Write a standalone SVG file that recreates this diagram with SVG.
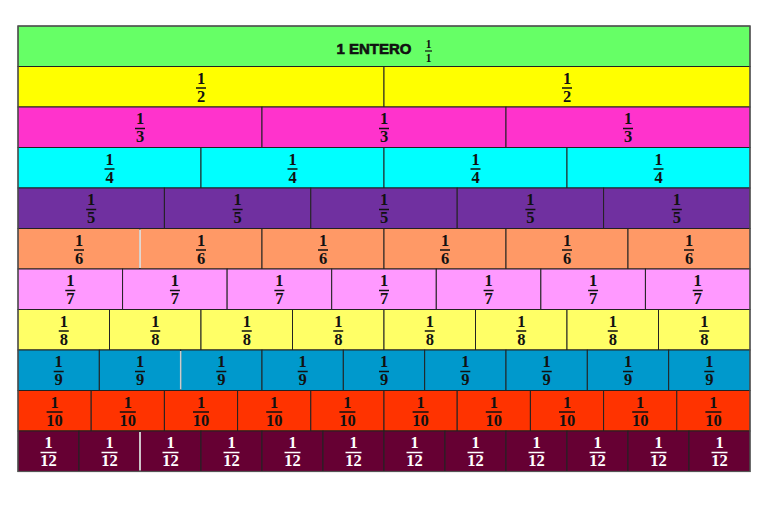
<svg xmlns="http://www.w3.org/2000/svg" width="768" height="523" viewBox="0 0 768 523">
<style>
rect{stroke:#222;stroke-width:1}
.r1{fill:#66FF66}.r2{fill:#FFFF00}.r3{fill:#FF33CC}.r4{fill:#00FFFF}.r5{fill:#7030A0}.r6{fill:#FF9966}.r7{fill:#FF99FF}.r8{fill:#FFFF66}.r9{fill:#0099CC}.r10{fill:#FF3300}.r12{fill:#660033}
text{font-family:"Liberation Serif","DejaVu Serif",serif;font-weight:bold;font-size:16.5px;text-anchor:middle;fill:#111}
line{stroke:#111;stroke-width:1.5}
.w text{fill:#fff}.w line{stroke:#fff}
.t{font-family:"Liberation Sans",Arial,sans-serif;font-size:15px;stroke:#111;stroke-width:0.6}
.s{font-size:11.5px}
.wd{stroke:#fff;stroke-width:1.5}
</style>
<rect x="0" y="0" width="768" height="523" style="fill:#fff;stroke:none"/>
<g id="row1">
<g id="c1-1"><rect class="r1" x="18" y="26" width="732" height="40.5"/><text class="t" x="374" y="54">1 ENTERO</text><text class="s" x="428.5" y="48">1</text><line x1="425" y1="51" x2="432" y2="51" style="stroke-width:1.2"/><text class="s" x="428.5" y="61.5">1</text></g>
</g>
<g id="row2">
<g id="c2-1"><rect class="r2" x="18" y="66.5" width="366" height="40.5"/><text x="201" y="83.5">1</text><line x1="196" y1="88" x2="206" y2="88"/><text x="201" y="101.5">2</text></g>
<g id="c2-2"><rect class="r2" x="384" y="66.5" width="366" height="40.5"/><text x="567" y="83.5">1</text><line x1="562" y1="88" x2="572" y2="88"/><text x="567" y="101.5">2</text></g>
</g>
<g id="row3">
<g id="c3-1"><rect class="r3" x="18" y="107" width="244" height="40.5"/><text x="140" y="124">1</text><line x1="135" y1="128.5" x2="145" y2="128.5"/><text x="140" y="142">3</text></g>
<g id="c3-2"><rect class="r3" x="262" y="107" width="244" height="40.5"/><text x="384" y="124">1</text><line x1="379" y1="128.5" x2="389" y2="128.5"/><text x="384" y="142">3</text></g>
<g id="c3-3"><rect class="r3" x="506" y="107" width="244" height="40.5"/><text x="628" y="124">1</text><line x1="623" y1="128.5" x2="633" y2="128.5"/><text x="628" y="142">3</text></g>
</g>
<g id="row4">
<g id="c4-1"><rect class="r4" x="18" y="147.5" width="183" height="40.5"/><text x="109.5" y="164.5">1</text><line x1="104.5" y1="169" x2="114.5" y2="169"/><text x="109.5" y="182.5">4</text></g>
<g id="c4-2"><rect class="r4" x="201" y="147.5" width="183" height="40.5"/><text x="292.5" y="164.5">1</text><line x1="287.5" y1="169" x2="297.5" y2="169"/><text x="292.5" y="182.5">4</text></g>
<g id="c4-3"><rect class="r4" x="384" y="147.5" width="183" height="40.5"/><text x="475.5" y="164.5">1</text><line x1="470.5" y1="169" x2="480.5" y2="169"/><text x="475.5" y="182.5">4</text></g>
<g id="c4-4"><rect class="r4" x="567" y="147.5" width="183" height="40.5"/><text x="658.5" y="164.5">1</text><line x1="653.5" y1="169" x2="663.5" y2="169"/><text x="658.5" y="182.5">4</text></g>
</g>
<g id="row5">
<g id="c5-1"><rect class="r5" x="18" y="188" width="146.4" height="40.5"/><text x="91.2" y="205">1</text><line x1="86.2" y1="209.5" x2="96.2" y2="209.5"/><text x="91.2" y="223">5</text></g>
<g id="c5-2"><rect class="r5" x="164.4" y="188" width="146.4" height="40.5"/><text x="237.6" y="205">1</text><line x1="232.6" y1="209.5" x2="242.6" y2="209.5"/><text x="237.6" y="223">5</text></g>
<g id="c5-3"><rect class="r5" x="310.8" y="188" width="146.4" height="40.5"/><text x="384" y="205">1</text><line x1="379" y1="209.5" x2="389" y2="209.5"/><text x="384" y="223">5</text></g>
<g id="c5-4"><rect class="r5" x="457.2" y="188" width="146.4" height="40.5"/><text x="530.4" y="205">1</text><line x1="525.4" y1="209.5" x2="535.4" y2="209.5"/><text x="530.4" y="223">5</text></g>
<g id="c5-5"><rect class="r5" x="603.6" y="188" width="146.4" height="40.5"/><text x="676.8" y="205">1</text><line x1="671.8" y1="209.5" x2="681.8" y2="209.5"/><text x="676.8" y="223">5</text></g>
</g>
<g id="row6">
<g id="c6-1"><rect class="r6" x="18" y="228.5" width="122" height="40.5"/><text x="79" y="245.5">1</text><line x1="74" y1="250" x2="84" y2="250"/><text x="79" y="263.5">6</text></g>
<g id="c6-2"><rect class="r6" x="140" y="228.5" width="122" height="40.5"/><text x="201" y="245.5">1</text><line x1="196" y1="250" x2="206" y2="250"/><text x="201" y="263.5">6</text></g>
<g id="c6-3"><rect class="r6" x="262" y="228.5" width="122" height="40.5"/><text x="323" y="245.5">1</text><line x1="318" y1="250" x2="328" y2="250"/><text x="323" y="263.5">6</text></g>
<g id="c6-4"><rect class="r6" x="384" y="228.5" width="122" height="40.5"/><text x="445" y="245.5">1</text><line x1="440" y1="250" x2="450" y2="250"/><text x="445" y="263.5">6</text></g>
<g id="c6-5"><rect class="r6" x="506" y="228.5" width="122" height="40.5"/><text x="567" y="245.5">1</text><line x1="562" y1="250" x2="572" y2="250"/><text x="567" y="263.5">6</text></g>
<g id="c6-6"><rect class="r6" x="628" y="228.5" width="122" height="40.5"/><text x="689" y="245.5">1</text><line x1="684" y1="250" x2="694" y2="250"/><text x="689" y="263.5">6</text></g>
</g>
<g id="row7">
<g id="c7-1"><rect class="r7" x="18" y="269" width="104.57" height="40.5"/><text x="70.3" y="286">1</text><line x1="65.3" y1="290.5" x2="75.3" y2="290.5"/><text x="70.3" y="304">7</text></g>
<g id="c7-2"><rect class="r7" x="122.57" y="269" width="104.57" height="40.5"/><text x="174.9" y="286">1</text><line x1="169.9" y1="290.5" x2="179.9" y2="290.5"/><text x="174.9" y="304">7</text></g>
<g id="c7-3"><rect class="r7" x="227.14" y="269" width="104.57" height="40.5"/><text x="279.4" y="286">1</text><line x1="274.4" y1="290.5" x2="284.4" y2="290.5"/><text x="279.4" y="304">7</text></g>
<g id="c7-4"><rect class="r7" x="331.71" y="269" width="104.57" height="40.5"/><text x="384" y="286">1</text><line x1="379" y1="290.5" x2="389" y2="290.5"/><text x="384" y="304">7</text></g>
<g id="c7-5"><rect class="r7" x="436.29" y="269" width="104.57" height="40.5"/><text x="488.6" y="286">1</text><line x1="483.6" y1="290.5" x2="493.6" y2="290.5"/><text x="488.6" y="304">7</text></g>
<g id="c7-6"><rect class="r7" x="540.86" y="269" width="104.57" height="40.5"/><text x="593.1" y="286">1</text><line x1="588.1" y1="290.5" x2="598.1" y2="290.5"/><text x="593.1" y="304">7</text></g>
<g id="c7-7"><rect class="r7" x="645.43" y="269" width="104.57" height="40.5"/><text x="697.7" y="286">1</text><line x1="692.7" y1="290.5" x2="702.7" y2="290.5"/><text x="697.7" y="304">7</text></g>
</g>
<g id="row8">
<g id="c8-1"><rect class="r8" x="18" y="309.5" width="91.5" height="40.5"/><text x="63.75" y="326.5">1</text><line x1="58.75" y1="331" x2="68.75" y2="331"/><text x="63.75" y="344.5">8</text></g>
<g id="c8-2"><rect class="r8" x="109.5" y="309.5" width="91.5" height="40.5"/><text x="155.25" y="326.5">1</text><line x1="150.25" y1="331" x2="160.25" y2="331"/><text x="155.25" y="344.5">8</text></g>
<g id="c8-3"><rect class="r8" x="201" y="309.5" width="91.5" height="40.5"/><text x="246.75" y="326.5">1</text><line x1="241.75" y1="331" x2="251.75" y2="331"/><text x="246.75" y="344.5">8</text></g>
<g id="c8-4"><rect class="r8" x="292.5" y="309.5" width="91.5" height="40.5"/><text x="338.25" y="326.5">1</text><line x1="333.25" y1="331" x2="343.25" y2="331"/><text x="338.25" y="344.5">8</text></g>
<g id="c8-5"><rect class="r8" x="384" y="309.5" width="91.5" height="40.5"/><text x="429.75" y="326.5">1</text><line x1="424.75" y1="331" x2="434.75" y2="331"/><text x="429.75" y="344.5">8</text></g>
<g id="c8-6"><rect class="r8" x="475.5" y="309.5" width="91.5" height="40.5"/><text x="521.25" y="326.5">1</text><line x1="516.25" y1="331" x2="526.25" y2="331"/><text x="521.25" y="344.5">8</text></g>
<g id="c8-7"><rect class="r8" x="567" y="309.5" width="91.5" height="40.5"/><text x="612.75" y="326.5">1</text><line x1="607.75" y1="331" x2="617.75" y2="331"/><text x="612.75" y="344.5">8</text></g>
<g id="c8-8"><rect class="r8" x="658.5" y="309.5" width="91.5" height="40.5"/><text x="704.25" y="326.5">1</text><line x1="699.25" y1="331" x2="709.25" y2="331"/><text x="704.25" y="344.5">8</text></g>
</g>
<g id="row9">
<g id="c9-1"><rect class="r9" x="18" y="350" width="81.33" height="40.5"/><text x="58.7" y="367">1</text><line x1="53.7" y1="371.5" x2="63.7" y2="371.5"/><text x="58.7" y="385">9</text></g>
<g id="c9-2"><rect class="r9" x="99.33" y="350" width="81.33" height="40.5"/><text x="140" y="367">1</text><line x1="135" y1="371.5" x2="145" y2="371.5"/><text x="140" y="385">9</text></g>
<g id="c9-3"><rect class="r9" x="180.67" y="350" width="81.33" height="40.5"/><text x="221.3" y="367">1</text><line x1="216.3" y1="371.5" x2="226.3" y2="371.5"/><text x="221.3" y="385">9</text></g>
<g id="c9-4"><rect class="r9" x="262" y="350" width="81.33" height="40.5"/><text x="302.7" y="367">1</text><line x1="297.7" y1="371.5" x2="307.7" y2="371.5"/><text x="302.7" y="385">9</text></g>
<g id="c9-5"><rect class="r9" x="343.33" y="350" width="81.33" height="40.5"/><text x="384" y="367">1</text><line x1="379" y1="371.5" x2="389" y2="371.5"/><text x="384" y="385">9</text></g>
<g id="c9-6"><rect class="r9" x="424.67" y="350" width="81.33" height="40.5"/><text x="465.3" y="367">1</text><line x1="460.3" y1="371.5" x2="470.3" y2="371.5"/><text x="465.3" y="385">9</text></g>
<g id="c9-7"><rect class="r9" x="506" y="350" width="81.33" height="40.5"/><text x="546.7" y="367">1</text><line x1="541.7" y1="371.5" x2="551.7" y2="371.5"/><text x="546.7" y="385">9</text></g>
<g id="c9-8"><rect class="r9" x="587.33" y="350" width="81.33" height="40.5"/><text x="628" y="367">1</text><line x1="623" y1="371.5" x2="633" y2="371.5"/><text x="628" y="385">9</text></g>
<g id="c9-9"><rect class="r9" x="668.67" y="350" width="81.33" height="40.5"/><text x="709.3" y="367">1</text><line x1="704.3" y1="371.5" x2="714.3" y2="371.5"/><text x="709.3" y="385">9</text></g>
</g>
<g id="row10">
<g id="c10-1"><rect class="r10" x="18" y="390.5" width="73.2" height="40.5"/><text x="54.6" y="407.5">1</text><line x1="46.6" y1="412" x2="62.6" y2="412"/><text x="54.6" y="425.5">10</text></g>
<g id="c10-2"><rect class="r10" x="91.2" y="390.5" width="73.2" height="40.5"/><text x="127.8" y="407.5">1</text><line x1="119.8" y1="412" x2="135.8" y2="412"/><text x="127.8" y="425.5">10</text></g>
<g id="c10-3"><rect class="r10" x="164.4" y="390.5" width="73.2" height="40.5"/><text x="201" y="407.5">1</text><line x1="193" y1="412" x2="209" y2="412"/><text x="201" y="425.5">10</text></g>
<g id="c10-4"><rect class="r10" x="237.6" y="390.5" width="73.2" height="40.5"/><text x="274.2" y="407.5">1</text><line x1="266.2" y1="412" x2="282.2" y2="412"/><text x="274.2" y="425.5">10</text></g>
<g id="c10-5"><rect class="r10" x="310.8" y="390.5" width="73.2" height="40.5"/><text x="347.4" y="407.5">1</text><line x1="339.4" y1="412" x2="355.4" y2="412"/><text x="347.4" y="425.5">10</text></g>
<g id="c10-6"><rect class="r10" x="384" y="390.5" width="73.2" height="40.5"/><text x="420.6" y="407.5">1</text><line x1="412.6" y1="412" x2="428.6" y2="412"/><text x="420.6" y="425.5">10</text></g>
<g id="c10-7"><rect class="r10" x="457.2" y="390.5" width="73.2" height="40.5"/><text x="493.8" y="407.5">1</text><line x1="485.8" y1="412" x2="501.8" y2="412"/><text x="493.8" y="425.5">10</text></g>
<g id="c10-8"><rect class="r10" x="530.4" y="390.5" width="73.2" height="40.5"/><text x="567" y="407.5">1</text><line x1="559" y1="412" x2="575" y2="412"/><text x="567" y="425.5">10</text></g>
<g id="c10-9"><rect class="r10" x="603.6" y="390.5" width="73.2" height="40.5"/><text x="640.2" y="407.5">1</text><line x1="632.2" y1="412" x2="648.2" y2="412"/><text x="640.2" y="425.5">10</text></g>
<g id="c10-10"><rect class="r10" x="676.8" y="390.5" width="73.2" height="40.5"/><text x="713.4" y="407.5">1</text><line x1="705.4" y1="412" x2="721.4" y2="412"/><text x="713.4" y="425.5">10</text></g>
</g>
<g id="row12" class="w">
<g id="c12-1"><rect class="r12" x="18" y="431" width="61" height="40.5"/><text x="48.5" y="448">1</text><line x1="40.5" y1="452.5" x2="56.5" y2="452.5"/><text x="48.5" y="466">12</text></g>
<g id="c12-2"><rect class="r12" x="79" y="431" width="61" height="40.5"/><text x="109.5" y="448">1</text><line x1="101.5" y1="452.5" x2="117.5" y2="452.5"/><text x="109.5" y="466">12</text></g>
<g id="c12-3"><rect class="r12" x="140" y="431" width="61" height="40.5"/><text x="170.5" y="448">1</text><line x1="162.5" y1="452.5" x2="178.5" y2="452.5"/><text x="170.5" y="466">12</text></g>
<g id="c12-4"><rect class="r12" x="201" y="431" width="61" height="40.5"/><text x="231.5" y="448">1</text><line x1="223.5" y1="452.5" x2="239.5" y2="452.5"/><text x="231.5" y="466">12</text></g>
<g id="c12-5"><rect class="r12" x="262" y="431" width="61" height="40.5"/><text x="292.5" y="448">1</text><line x1="284.5" y1="452.5" x2="300.5" y2="452.5"/><text x="292.5" y="466">12</text></g>
<g id="c12-6"><rect class="r12" x="323" y="431" width="61" height="40.5"/><text x="353.5" y="448">1</text><line x1="345.5" y1="452.5" x2="361.5" y2="452.5"/><text x="353.5" y="466">12</text></g>
<g id="c12-7"><rect class="r12" x="384" y="431" width="61" height="40.5"/><text x="414.5" y="448">1</text><line x1="406.5" y1="452.5" x2="422.5" y2="452.5"/><text x="414.5" y="466">12</text></g>
<g id="c12-8"><rect class="r12" x="445" y="431" width="61" height="40.5"/><text x="475.5" y="448">1</text><line x1="467.5" y1="452.5" x2="483.5" y2="452.5"/><text x="475.5" y="466">12</text></g>
<g id="c12-9"><rect class="r12" x="506" y="431" width="61" height="40.5"/><text x="536.5" y="448">1</text><line x1="528.5" y1="452.5" x2="544.5" y2="452.5"/><text x="536.5" y="466">12</text></g>
<g id="c12-10"><rect class="r12" x="567" y="431" width="61" height="40.5"/><text x="597.5" y="448">1</text><line x1="589.5" y1="452.5" x2="605.5" y2="452.5"/><text x="597.5" y="466">12</text></g>
<g id="c12-11"><rect class="r12" x="628" y="431" width="61" height="40.5"/><text x="658.5" y="448">1</text><line x1="650.5" y1="452.5" x2="666.5" y2="452.5"/><text x="658.5" y="466">12</text></g>
<g id="c12-12"><rect class="r12" x="689" y="431" width="61" height="40.5"/><text x="719.5" y="448">1</text><line x1="711.5" y1="452.5" x2="727.5" y2="452.5"/><text x="719.5" y="466">12</text></g>
</g>
<g id="connectors">
<line class="wd" x1="140" y1="229.5" x2="140" y2="268"/>
<line class="wd" x1="180.67" y1="351" x2="180.67" y2="389.5" style="stroke:#ccc"/>
<line class="wd" x1="140" y1="432" x2="140" y2="470.5"/>
</g>
<rect x="18" y="26" width="732" height="445.5" style="fill:none;stroke:#555;stroke-width:1.2"/>
</svg>
